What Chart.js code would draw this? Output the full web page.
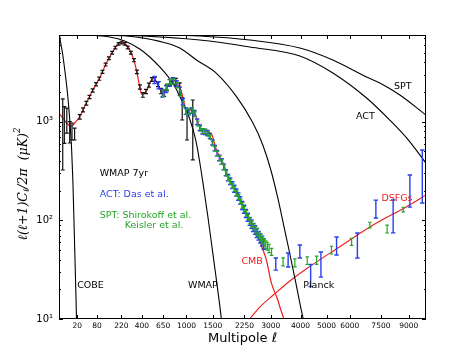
<!DOCTYPE html>
<html><head><meta charset="utf-8">
<script src="https://cdn.jsdelivr.net/npm/chart.js@4.4.1/dist/chart.umd.min.js"></script>
<style>html,body{margin:0;padding:0;background:#fff;overflow:hidden}</style>
</head><body>
<canvas id="c" width="474" height="356" style="width:474px;height:356px;display:block"></canvas>
<script>
// ---------------- data ----------------
const xTickValues = [20, 80, 220, 400, 650, 1000, 1500, 2250, 3000, 4000, 5000, 6000, 7500, 9000];
const yTickValues = [10, 100, 1000];
const yTickLabels = ['10\u00B9', '10\u00B2', '10\u00B3'];

// theory CMB spectrum (red)
const cmbL = [0.5,2.5,5.8,10.5,16.8,24.8,42,64,92,125,162,196,220,259,312,346,378,398,447,503,530,579,647,712,788,844,918,970,1020,1070,1146,1238,1369,1472,1578,1726,1881,2046,2129,2286,2484,2625,2732,2866,3026,3224,3323,3422,3500];
const cmbD = [1225,1065,948,904,993,1124,1547,2096,2773,3936,5123,6133,6351,5992,4560,3342,2263,1887,2048,2647,2741,2411,1909,2301,2616,2468,2000,1480,1254,1314,1225,890,792,750,517,381,256,203,172,121,88,68,54,40,23,15.6,12.3,10,8];

// DSFG (red line)
const dsfgL = [2078,2367,2675,3075,3624,4245,5560,7109,8878,9990];
const dsfgD = [7.4,9.8,13.2,17.4,24.3,32.7,54.1,89.7,137.5,180.7];

// experiment sensitivity curves (black)
const cobeL = [0.5,0.677,1.948,3.97,6.27,8.54,10.5,12.22,13.93,15.93,18.09,19.03];
const cobeD = [8500,7391,4856,2839,1660,926,517,256,101,35.3,11.8,7.4];
const wmapNL = [0.5,52.5,143.5,245,378,484,605,741,844,939,1056,1164,1238,1315,1396,1477,1563,1640,1696];
const wmapND = [7745,7565,7220,6577,5457,4528,3585,2709,2096,1547,1065,652,390.5,212.7,110.7,56.3,27.9,14.9,9.3];
const planckL = [0.5,91.8,261,605,891,1177,1578,2046,2484,2762,3005,3224,3422,3624,3832,4011,4105,4170];
const planckD = [7745,7565,7391,6523,5585,4220,3095,1793,963,581,324,168.5,87.6,45.6,23.2,12.9,9.77,7.5];
const actNL = [0.5,208,1238,2394,3975,5262,6788,7960,8878,9990];
const actND = [7745,7565,6730,5717,4634,3116,1739,1040,684,382];
const sptNL = [0.5,484,1238,2394,3975,5262,6788,7445,8505,9990];
const sptND = [7745,7652,7391,6730,5585,4220,2839,2468,1865,1169];

// WMAP 7yr band powers (black)
const wmapL = [2,3,5,8,11,15,25,33,42,52,63,76,90,105,121,139,158,178,200,222,246,270,296,323,351,380,410,442,475,509,545,582,620,660,700,742,785,830,891,930,1010,1110];
const wmapD = [1012,1012,1070,804,811,757,1120,1320,1540,1780,2070,2400,2730,3200,3800,4400,5000,5650,6150,6350,6150,5650,5000,4200,3200,2250,1870,2030,2350,2680,2700,2400,2050,1950,2230,2500,2600,2520,2165,1390,983,1035];
const wmapE = [688,408,303,196,159,105,60,60,65,70,80,90,100,110,130,140,160,170,180,190,190,180,170,150,130,110,100,100,110,120,130,130,130,140,160,180,200,230,305,350,331,625];

// ACT (Das et al.) band powers (blue)
const actL = [540,590,640,690,740,790,840,890,940,990,1040,1090,1140,1190,1240,1290,1340,1390,1440,1490,1540,1590,1640,1690,1740,1790,1840,1890,1940,1990,2040,2090,2140,2190,2240,2290,2340,2390,2440,2490,2540,2590,2640,2690,2740,2790,3160,3565,3975,4375,4775,5420,6350,7245,8140,9060,9780];
const actD = [2650,2350,1950,2150,2480,2580,2430,2100,1600,1280,1260,1300,1220,1000,870,800,790,770,720,620,540,480,430,395,350,305,272,250,228,210,192,175,160,142,130,118,108,98,92,85,80,75,70,66,62,58,36.4,40.2,48.9,28.5,37.2,56.2,58,133,117.6,212,333];
const actE = [220,200,170,170,190,190,170,150,120,95,85,85,80,65,55,50,48,45,42,38,34,30,28,26,24,22,20,19,18,17,16,15,14,13,12,11,10,9,9,8,8,8,7,7,7,7,5.1,6.5,7.4,7.2,10.6,11.6,16.5,27.5,43,76,183];

// SPT (Shirokoff / Keisler) band powers (green)
const sptL = [650,700,750,800,850,900,950,1000,1050,1100,1150,1200,1250,1300,1350,1400,1450,1500,1550,1600,1650,1700,1750,1800,1850,1900,1950,2000,2050,2100,2150,2200,2250,2300,2350,2400,2450,2500,2550,2600,2650,2700,2750,2800,2850,2900,2950,3026,3396,3797,4245,4605,5205,6085,6945,7820,8690];
const sptD = [1950,2250,2530,2560,2350,1950,1520,1260,1270,1310,1190,960,850,805,795,755,700,600,530,475,425,390,345,300,268,247,224,207,188,172,156,142,130,118,108,99,92,86,80,76,71,67,63,60,57,55,52,48.1,38.1,37.2,39.2,39.6,50.1,60.8,89.7,82,128.8];
const sptE = [140,150,160,160,150,130,100,80,75,75,65,55,48,44,42,40,37,32,28,25,23,21,19,17,15,14,13,12,11,10,9,9,8,8,7,7,6,6,6,6,5,5,5,5,5,5,5,4,3.5,3.5,3.5,3.8,4.5,5,6,7.6,7];

// ---------------- styling / layout ----------------
const RED = '#ee1c1c', BLUE = '#2a3ff0', GREEN = '#26a626', BLACK = '#000000';
const FONT = "'DejaVu Sans', 'Liberation Sans', sans-serif";
const annotations = [
  {text: 'WMAP 7yr', l: 91.8, d: 300, color: BLACK},
  {text: 'ACT: Das et al.', l: 91.8, d: 180.7, color: BLUE},
  {text: 'SPT: Shirokoff et al.', l: 91.8, d: 111.4, color: GREEN},
  {text: 'Keisler et al.', l: 245, d: 87.6, color: GREEN},
  {text: 'COBE', l: 19.6, d: 21.9, color: BLACK},
  {text: 'WMAP', l: 1027, d: 21.8, color: BLACK},
  {text: 'CMB', l: 2172, d: 38.1, color: RED},
  {text: 'Planck', l: 4097, d: 21.8, color: BLACK},
  {text: 'DSFGs', l: 7525, d: 167.3, color: RED},
  {text: 'SPT', l: 8180, d: 2263, color: BLACK},
  {text: 'ACT', l: 6285, d: 1124, color: BLACK}
];

// ---------------- custom power-law x scale ----------------
const LinearScale = Chart.LinearScale || Chart.registry.getScale('linear');
class PowerScale extends LinearScale {
  determineDataLimits() { this.min = this.options.min; this.max = this.options.max; }
  buildTicks() { return xTickValues.map(v => ({value: v})); }
  configure() {
    super.configure();
    const p = this.options.exponent;
    this._p0 = Math.pow(this.min, p); this._p1 = Math.pow(this.max, p);
  }
  getPixelForValue(v) {
    if (v === null || v === undefined || isNaN(v)) return NaN;
    const p = this.options.exponent;
    return this.getPixelForDecimal((Math.pow(v, p) - this._p0) / (this._p1 - this._p0));
  }
  getValueForPixel(px) {
    const p = this.options.exponent;
    const d = this.getDecimalForPixel(px);
    return Math.pow(this._p0 + d * (this._p1 - this._p0), 1 / p);
  }
}
PowerScale.id = 'power';
PowerScale.defaults = {};
Chart.register(PowerScale);

const zip = (L, D) => L.map((l, i) => ({x: l, y: D[i]}));
const curve = (L, D, color, w) => ({
  data: zip(L, D), showLine: true, borderColor: color, borderWidth: w,
  pointRadius: 0, cubicInterpolationMode: 'monotone', fill: false
});
const bars = (L, D, E, color, w, cap) => ({
  data: zip(L, D), errors: E, barColor: color, barWidth: w, capHalf: cap,
  showLine: false, pointRadius: 0, pointHoverRadius: 0
});

const extras = {
  id: 'extras',
  afterDatasetsDraw(chart) {
    const ctx = chart.ctx, xs = chart.scales.x, ys = chart.scales.y, a = chart.chartArea;
    ctx.save();
    ctx.beginPath(); ctx.rect(a.left, a.top, a.right - a.left, a.bottom - a.top); ctx.clip();
    chart.data.datasets.forEach(ds => {
      if (!ds.errors) return;
      ctx.strokeStyle = ds.barColor; ctx.lineWidth = ds.barWidth;
      ds.data.forEach((p, i) => {
        const e = ds.errors[i];
        const px = xs.getPixelForValue(p.x);
        const lo = Math.max(p.y - e, 0.5);
        const y1 = ys.getPixelForValue(p.y + e), y2 = ys.getPixelForValue(lo);
        const c = ds.capHalf;
        ctx.beginPath();
        ctx.moveTo(px, y1); ctx.lineTo(px, y2);
        ctx.moveTo(px - c, y1); ctx.lineTo(px + c, y1);
        ctx.moveTo(px - c, y2); ctx.lineTo(px + c, y2);
        ctx.stroke();
      });
    });
    ctx.restore();
    // annotations
    ctx.save();
    ctx.font = '9.5px ' + FONT; ctx.textAlign = 'left'; ctx.textBaseline = 'middle';
    annotations.forEach(an => {
      ctx.fillStyle = an.color;
      ctx.fillText(an.text, xs.getPixelForValue(an.l), ys.getPixelForValue(an.d));
    });
    ctx.restore();
  },
  afterDraw(chart) {
    const ctx = chart.ctx, xs = chart.scales.x, ys = chart.scales.y, a = chart.chartArea;
    ctx.save();
    ctx.strokeStyle = '#000'; ctx.lineWidth = 1;
    ctx.strokeRect(a.left + 0.5, a.top + 0.5, a.right - a.left - 1, a.bottom - a.top - 1);
    ctx.beginPath();
    xTickValues.forEach(v => {
      const px = Math.round(xs.getPixelForValue(v)) + 0.5;
      ctx.moveTo(px, a.bottom); ctx.lineTo(px, a.bottom - 4);
      ctx.moveTo(px, a.top); ctx.lineTo(px, a.top + 4);
    });
    [10, 100, 1000].forEach(dec => {
      for (let m = 1; m <= 9; m++) {
        const v = dec * m;
        if (v > ys.max) break;
        const py = Math.round(ys.getPixelForValue(v)) + 0.5;
        const len = m === 1 ? 4 : 2;
        ctx.moveTo(a.left, py); ctx.lineTo(a.left + len, py);
        ctx.moveTo(a.right, py); ctx.lineTo(a.right - len, py);
      }
    });
    ctx.stroke();
    // x title
    ctx.fillStyle = '#000';
    ctx.font = '13px ' + FONT; ctx.textAlign = 'center'; ctx.textBaseline = 'alphabetic';
    ctx.fillText('Multipole \u2113', (a.left + a.right) / 2, 342);
    // y title with sub/superscript
    ctx.translate(24, (a.top + a.bottom) / 2 + 7);
    ctx.rotate(-Math.PI / 2);
    const big = "italic 12.5px 'DejaVu Serif', 'Liberation Serif', serif";
    const small = "italic 8.5px 'DejaVu Serif', 'Liberation Serif', serif";
    const parts = [
      {t: '\u2113(\u2113+1)C', f: big, dy: 0},
      {t: '\u2113', f: small, dy: 3},
      {t: '/2\u03C0  (\u03BCK)', f: big, dy: 0},
      {t: '2', f: small, dy: -6}
    ];
    let total = 0;
    parts.forEach(p => { ctx.font = p.f; p.w = ctx.measureText(p.t).width; total += p.w; });
    let x = -total / 2;
    ctx.textAlign = 'left'; ctx.textBaseline = 'middle';
    parts.forEach(p => { ctx.font = p.f; ctx.fillText(p.t, x, p.dy); x += p.w; });
    ctx.restore();
  }
};

new Chart(document.getElementById('c'), {
  type: 'scatter',
  data: {
    datasets: [
      bars(wmapL, wmapD, wmapE, '#111111', 1.2, 2),
      curve(cobeL, cobeD, BLACK, 1.1),
      curve(wmapNL, wmapND, BLACK, 1.1),
      curve(planckL, planckD, BLACK, 1.1),
      curve(actNL, actND, BLACK, 1.1),
      curve(sptNL, sptND, BLACK, 1.1),
      curve(cmbL, cmbD, RED, 1.2),
      curve(dsfgL, dsfgD, RED, 1.1),
      bars(actL, actD, actE, BLUE, 1.4, 2.2),
      bars(sptL, sptD, sptE, GREEN, 1.2, 1.8)
    ]
  },
  options: {
    responsive: false, animation: false, devicePixelRatio: 1,
    layout: {padding: {top: 35, right: 48, left: 0, bottom: 0}},
    plugins: {legend: {display: false}, tooltip: {enabled: false}},
    events: [],
    scales: {
      x: {
        type: 'power', exponent: 0.45, min: 0.5, max: 10000,
        grid: {display: false, drawTicks: false}, border: {display: false},
        ticks: {autoSkip: false, maxRotation: 0, minRotation: 0, padding: 3,
          font: {family: FONT, size: 7.5}, color: '#000', callback: v => String(v)},
        afterFit: s => { s.height = 37; }
      },
      y: {
        type: 'logarithmic', min: 10, max: 7565,
        grid: {display: false, drawTicks: false}, border: {display: false},
        afterBuildTicks: s => { s.ticks = yTickValues.map(v => ({value: v, major: true})); },
        ticks: {autoSkip: false, padding: 6, font: {family: FONT, size: 10}, color: '#000',
          callback: v => { const i = yTickValues.indexOf(v); return i >= 0 ? yTickLabels[i] : ''; }},
        afterFit: s => { s.width = 59; }
      }
    }
  },
  plugins: [extras]
});
</script>
</body></html>
